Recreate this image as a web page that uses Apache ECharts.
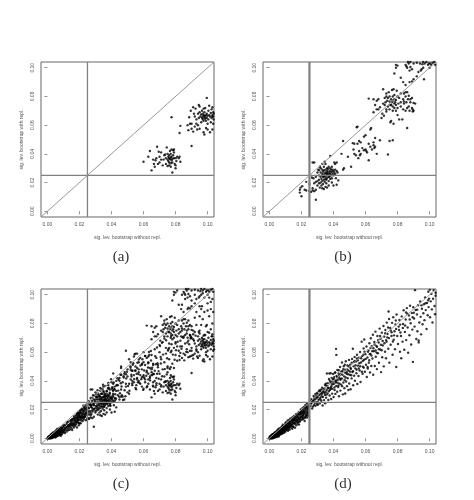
<!DOCTYPE html>
<html><head><meta charset="utf-8"><style>html,body{margin:0;padding:0;background:#fff}#c{width:474px;height:500px}</style>
<script src="https://cdn.jsdelivr.net/npm/echarts@6/dist/echarts.min.js"></script></head><body><div id="c"></div>
<script>
// All point values are in thousandths of a significance level.
const panelA = [[60,34.5],[63,38],[64,42],[65,28.5],[66,36],[66.5,33],[67,31],[67.5,35.5],[68,37],[68.5,45],[69,33],[69.5,41.5],[70,38],[70,34],[71,36],[71,41],[72,32],[72.5,36],[73,39],[73.5,39.5],[74,33],[74,37],[74.5,44.5],[75,31.5],[75,36],[75,40],[75.5,35],[75.5,38],[76,32],[76,34],[76,37],[76,39],[76.5,36.5],[76.5,42],[77,31],[77,33.5],[77,37.5],[77,40],[77.5,35.5],[77.5,38],[77.5,43],[78,27],[78,34],[78,36.5],[78.5,42.5],[78.5,39],[79,37],[79,43],[79.5,33],[80,30],[80,37],[80.5,35],[81,38],[82,37],[82.5,38],[83,34.5],[79,41],[80,32],
[77.5,65.5],[83,59.5],[82.5,54.5],[90,45.5],[87.5,60],[88,56.5],[88.5,65.5],[89,61],[89.5,70],[90,61],[90,57.5],[91,72.5],[91,55.5],[91.5,68],[92,59],[92,66],[92.5,71.5],[93,61],[93,64],[93.5,57],[94,68],[94,60],[94.5,74],[94.5,65],[95,73],[95,57.5],[95,69],[95.5,66],[96,62],[96,67.5],[96.5,65],[96.5,70],[97,64],[97,66],[97,68],[97.5,55],[97.5,63],[97.5,67],[97.5,71.5],[98,53.5],[98,65],[98,66.5],[98,69],[98.5,64.5],[98.5,66],[98.5,72],[99,58],[99,63],[99,67],[99.5,79],[99.5,65],[99.5,68],[100,57],[100,61],[100,66.5],[100.5,64],[100.5,70],[101,67],[101,73.5],[101.5,55],[101.5,66],[102,68.5],[102,62],[102.5,65],[102.5,71],[103,57],[103,67],[103,72.5],[103.5,61],[103.5,66],[103.5,69],[103.8,64],[103.8,68],[103,66]];
const panelB = [[19,13],[19,15],[19.5,16.5],[20,10.5],[20.5,17.5],[22,15],[23,20.5],[23,14.5],[25,14],[25,19],[26,13.5],[26.5,23.5],[27,16],[27,14.5],[27,34],[27.5,23],[28,34],[28,19.5],[28,14],[29,8],[29,20.5],[29,24],[29,15],[30,27],[30,21],[30,18],[30.5,29],[31,25],[31,22],[31,19.5],[31,28.5],[31.5,16.5],[31.5,31],[32,24],[32,20],[32,27],[32,30],[32.5,18],[32.5,22.5],[33,29],[33,26],[33,21],[33,16],[33,33],[33.5,24],[33.5,27.5],[33.5,19],[34,31],[34,15.5],[34,22],[34,28.5],[34.5,26],[34.5,20.5],[34.5,34.5],[35,27],[35,24],[35,29],[35,17],[35,33],[35.5,26.5],[35.5,22],[35.5,19.5],[36,30],[36,28],[36,25],[36,23],[36,16.5],[36.5,27],[36.5,29.5],[37,26],[37,31],[37,21],[37,18],[37.5,28],[37.5,24],[38,30],[38,27],[38,38.5],[38,26],[38,22.5],[38.5,29],[38.5,25],[39,27.5],[39,31],[39,20],[39,23],[39.5,26],[39.5,29],[40,28],[40,25],[40,18],[40.5,27],[40.5,34],[41,29],[41,26],[41,33],[41.5,23],[42,28],[42,34],[42,18.5],[42.5,27],[43,21.5],[46,29],[46.5,30],[33.5,25],[35,22.5],[37,24],[34,24],[36,26],
[45,40],[46,49],[49,38],[51,31],[52,47.5],[52.5,43],[53,47],[53,40],[54,39],[54.5,58.5],[55,59],[55,47],[55.5,37],[56,49],[56,42],[56.5,39],[57,48],[57,40],[58,44],[59,52],[59,42.5],[60,43],[60,53],[60.5,42],[61,41],[62,35.5],[62,47],[63,57],[63,45],[63.5,58],[64,43],[65,46],[65,48],[65.5,44],[66,51],[66,45],[67,40],[69,49.5],[74,39.5],[75,49],[77,49.5],
[62,78.5],[65,69],[65,78],[66,74],[67,77],[67,71],[68,78],[68,71],[69,72.5],[70,65],[70.5,68],[71,85],[71,75],[71.5,66.5],[72,79],[72,74],[72.5,76],[73,80],[73,71],[73,82],[73,69.5],[73.5,77],[74,73],[74,79],[74.5,83],[75,71],[75,76.5],[75,80],[75.5,62],[75.5,74],[76,78],[76,74],[76,63],[76.5,84.5],[76.5,76],[77,80],[77,77],[77,73],[77,70],[77.5,85],[77.5,61],[78,75],[78,78],[78,72],[78,81],[78.5,76],[79,77.5],[79,74],[79,70],[79.5,84],[80,72],[80,80],[80,67],[80.5,75],[81,79],[81,64],[82,82],[82,73],[82,76],[83,64],[83.5,78],[83.5,71],[84,75],[84,82],[84,76.5],[85,80],[85,70],[85,83],[85.5,76],[86,58],[86,83],[86,72],[86.5,78],[87,80.5],[87,73],[87.5,70],[88,76],[88,78],[89,79],[89,72],[89.5,71],[89.5,69.5],[90,75.5],[90,70],[91,75],
[78,96],[79,100],[79,102],[80,101.5],[82,93],[83.5,90],[85,88],[85,102],[85.5,101],[86,100],[86.5,104],[87,103],[87.5,98],[87.5,90],[88,104],[88,100.5],[89,90.5],[89,99],[90,92],[90,103],[92,94],[92,103.5],[93,97],[94,103],[94.5,98],[95,99],[95.5,102.5],[96,104],[96,100],[96.5,92],[97,103],[98,104],[99,102],[99.5,103],[100,100],[100.5,103],[101,102],[102,103.5],[103,104],[103.5,102]];
const panelCExtra = [[0,0],[.3,0],[.5,.2],[.8,0],[.8,.5],[1,.2],[1,1],[1.2,.4],[1.4,0],[1.5,.8],[1.6,1.5],[1.8,.3],[1.8,1.2],[2,.5],[2,0],[2,1.8],[2.2,1],[2.4,.2],[2.5,1.5],[2.5,2.4],[2.8,.7],[2.8,2],[3,1.2],[3,.2],[3,2.9],[3.2,1.8],[3.4,.6],[3.5,2.4],[3.6,1.2],[3.8,3.2],[3.8,2],[4,.8],[4,2.8],[4,1.5],[4.2,3.6],[4.4,2.2],[4.5,1],[4.6,3],[4.8,1.6],[4.8,4],[5,2.5],[5,.5],[5.2,3.4],[5.3,1.8],[5.5,4.4],[5.5,2.8],[5.6,1.2],[5.8,3.6],[6,2.2],[6,5],[6,3],[6.2,1.6],[6.4,4],[6.5,2.6],[6.6,5.4],[6.8,3.3],[7,1.9],[7,4.6],[7,6.3],[7.2,2.8],[7.4,3.8],[7.6,5.2],[7.8,2.4],[8,4.3],[8,3],[8.2,6],[8.4,1.7],[8.6,5],[8.8,3.6],[9,2.7],[9,7],[9.2,4.6],[9.5,6],[9.8,3.8],[10,5.3],[10,7.8],[10.4,4.5],[10.8,6.6],[11,3.6],[11,9],[11.3,5.5],[11.8,7.4],[12,4.6],[12,10],[12.4,6.2],[12.8,8.4],[13,5.5],[13.4,7],[13.8,9.6],[14,6],[14.3,8],[14.6,11.5],[15,7],[15,10],[15.5,5.8],[15.8,8.8],[16,12],[16.2,10.4],[16.5,7.5],[16.8,9.6],[17,13.5],[17.2,11],[17.5,8.5],[17.8,14.5],[18,12],[18,10],[18.4,16],[18.5,7.5],[18.8,13],[19,11],[19,18],[19.2,14.8],[19.6,9],[20,16.5],[20,12.5],[20.3,19],[20.5,15],[20.8,10.5],[21,17.5],[21,13.5],[21.5,20],[21.5,16],[22,12],[22,18.2],[22.4,14.5],[22.8,21.5],[23,17],[23,19.5],[23.5,15],[23.8,23],[24,18],[24,12.5],[24.4,20.5],[24.8,16],[25,24],[25,22],[25.4,18.5],[25.8,14],[26,21],[26,26],
[26.5,19],[27,23.5],[27,28],[27.5,17],[28,25],[28,21],[28.5,30],[29,27],[29,23],[30,19],[30,25],[30,32],[31,27],[31,23],[32,21],[32,29],[33,35],[33,24.5],[34,27],[34,31],[35,22],[35,36],[36,29],[36,25],[37,33],[37,26],[38,30],[38,37],[39,24],[39,34],[40,28],[40,39],[41,31],[41,38],[42,26],[42,36],[43,33],[43,40],[44,30],[44,37],[45,27],[45,42],[46,34],[46,50],[47,29],[47,39],[48,45],[48,27],[49,36],[49,61],[50,32],[50,48],[50,43],[51,55],[51,38],[52,41],[52,53],[53,37],[53,47],[54,44],[54,57],[55,50],[55,35],[56,41],[56,59],[57,46],[57,53],[58,38],[58,56],[59,48],[59,36],[60,60],[60,44],[61,51],[61,39],[62,56],[62,46],[63,41],[63,53],[64,49],[64,34],[65,58],[65,44],[66,39],[66,52],[67,47],[67,62],[68,42],[68,56],[69,51],[70,45],[70,60],[71,37],[71,55],[72,48],[72,67],[73,53],[73,43],[74,59],[74,63],[75,50],[75,46],[76,55],[76,66],[77,44],[77,60],[78,52],[78,69],[79,49],[79,63],[80,58],[80,66],[81,54],[81,71],[82,61],[83,68],[83,74],[84,56],[84,64],[85,59],[85,71],[86,66],[87,75],[87,62],[88,68],[88,82],[89,57],[89,72],[90,63],[90,78],[91,58],[91,69],[92,74],[92,84],[93,62],[93,79],[94,71],[94,56],[95,85],[95,75],[96,64],[96,90],[96,79],[97,54],[97,83],[97,69],[98,88],[98,72],[99,60],[99,78],[100,94],[100,74],[101,85],[101,65],[102,90],[102,76],[103,80],[103,97],[103,71],[103.5,88],[104,62],[84,93],[86,97],[88,91],[90,96],[93,88],[95,92],[98,98],[100,89],[101,98],[102,95],[81,103],[84,100],[92,100],[97,101],
[13.2,9.1],[14.4,8.7],[14.9,12.6],[15.4,9.3],[15.9,13.4],[16.4,8.9],[16.7,14.1],[17.1,9.7],[17.6,12.8],[18.2,14.3],[18.7,11.3],[18.9,17.2],[19.3,12.9],[19.7,16.1],[19.9,10.3],[20.4,14.1],[20.7,18.2],[21.2,12.3],[21.6,15.1],[21.9,19.3],[22.2,16.9],[22.6,13.2],[22.9,18.7],[23.3,15.4],[23.6,20.3],[24.1,16.8],[24.6,19.4],[24.9,13.1],[25.6,20.9],[25.9,16.7],[26.3,23.2],[26.8,17.9],[27.4,21.7],[27.8,26.2],[28.2,18.6],[28.7,23.6],[29.1,20.2],[29.6,25.8],[30.2,22.4],[30.6,28.7],[31.1,20.7],[31.7,25.2],[32.2,23.1],[32.7,27.4],[33.2,30.8],[33.7,22.3],[34.2,25.7],[34.8,28.6],[35.3,23.9],[35.7,31.2],[36.2,27.2],[36.8,24.2],[37.3,29.1],[37.8,34.7],[38.3,26.2],[38.9,31.7],[39.4,22.6],[39.9,27.6],[40.3,35.2],[40.8,29.8],[41.3,25.2],[41.7,34.2],[42.3,30.7],[42.8,27.8],[43.4,37.1],[44.2,33.2],[44.8,28.9],[45.3,31.4],[45.8,38.3],[46.3,36.1],[47.2,26.7],[47.6,43.2],[48.2,33.4],[48.7,29.3],[49.2,41.7],[49.7,46.3],[50.4,36.4],[51.2,33.1],[51.8,50.1],[52.4,44.2],[52.9,38.2],[53.6,52.3],[54.2,41.3],[54.8,47.2],[55.4,34.2],[56.2,52.6],[56.8,44.7],[57.4,38.7],[58.1,50.7],[58.6,41.2],[59.3,55.1],[59.8,33.7],[60.4,47.2],[61.1,57.3],[61.7,43.6],[62.3,36.2],[62.8,49.3],[63.4,60.1],[64.1,40.3],[64.7,54.2],[65.4,49.1],[65.9,36.7],[66.6,44.7],[67.3,57.2],[68.1,38.4],[68.7,52.3],[69.4,46.8],[70.3,64.2],[70.8,52.1],[71.6,43.2],[72.2,58.3],[73.3,48.2],[74.1,68.3],[74.7,55.8],[75.3,61.2],[76.4,48.3],[77.2,71.2],[78.3,58.3],[79.4,54.7],[80.3,61.4],[81.3,67.2],[82.4,57.3],[83.7,62.3],[84.3,70.3],[85.4,54.3],[86.7,60.2],[87.4,66.7],
[.6,.9],[1.1,.1],[.3,.4],[1.6,.6],[.9,1.4],[2.1,.2],[1.4,1.1],[2.9,1.4],[1.9,2.3],[3.6,.9],[2.4,2.8],[3.9,2.1],[4.4,1.1],[3.4,3.8],[5.1,1.9],[4.1,4.2],[3.1,3.4],[5.8,2.4],[4.9,4.9],[6.4,3.7],[5.4,5.6],[7.2,3.1],[6.1,6.4],[8.1,4.2],[7.1,6.9],[6.9,5.2],[8.9,5.7],[7.9,7.2],[9.6,5.1],[8.4,7.9],[9.3,7.1],[10.7,6.1],[9.9,8.9],[11.2,7.4],[10.4,9.1],[12.3,7.8],[13.3,8.6],[12.3,11.2],[14.1,9.8],[13.1,11.6],[15.1,10.7],[14.4,12.4],[16.1,10.2],[15.4,13.3],[17.2,12.1],[16.6,15.2],[18.1,11.3],[17.6,15.8],[19.1,13.4],[18.4,16.9],[20.1,14.6],[19.6,17.6],[21.1,15.2],[20.7,19.7],[22.1,14.1],[21.6,20.4],[23.1,16.2],[22.4,22.7],[24.1,17.6],[23.4,21.6],[24.7,21.1],
[38.2,35.3],[43.7,41.9],[35.6,30.4],[31.3,33.4],[41.4,38.9],[28.1,28.3],[45.6,44.2],[37.1,32.8],[34.7,37.3],[49.1,44.6],[27.2,22.1],[39.7,41.2],[43.1,36.8],[30.4,30.6],[36.1,36.4],[47.6,42.3],[32.6,29.3],[41.1,45.2],[44.4,40.8],[35.1,32.2],[38.4,34.6],[46.1,44.2],[29.3,29.6],[33.9,34.1],[48.3,46.1],[40.6,35.4],[53.3,51.2],[57.1,54.9],[60.9,57.4],[64.6,60.8],[68.4,63.2],[51.9,49.1],[55.7,44.9],[59.1,51.3],[62.9,52.3],[67.7,51.6],[70.7,56.6]];
const panelDLow = [[0,0],[.2,.3],[.4,0],[.4,.8],[.6,.4],[.8,0],[.8,1],[1,.4],[1,1.6],[1.2,.8],[1.2,0],[1.4,1.4],[1.5,.4],[1.6,2.2],[1.8,1],[1.8,0],[2,1.6],[2,.6],[2,2.8],[2.2,2],[2.4,1.2],[2.4,.2],[2.6,2.4],[2.6,1.6],[2.8,3.2],[2.8,.8],[3,2],[3,1.2],[3.2,2.8],[3.2,.4],[3.4,3.6],[3.4,1.6],[3.6,2.4],[3.8,1],[3.8,3],[4,4],[4,2],[4.2,2.8],[4.2,1.4],[4.4,3.5],[4.6,2.4],[4.6,4.6],[4.8,1.8],[4.8,3.2],[5,4],[5,2.6],[5.2,5.2],[5.4,3.4],[5.4,1.6],[5.6,4.4],[5.6,2.6],[5.8,3.8],[6,5.4],[6,3],[6.2,6.2],[6.2,4.4],[6.4,2.4],[6.6,5],[6.6,3.4],[6.8,4],[7,6.2],[7,2.8],[7.2,5],[7.4,3.6],[7.4,7],[7.6,4.6],[7.8,6],[8,3.2],[8,7.6],[8.2,5.2],[8.4,4],[8.6,6.6],[8.8,8.6],[9,5],[9,7.4],[9.2,3.8],[9.5,6],[9.8,8.8],[10,7],[10,4.6],[10.3,9.6],[10.5,5.8],[10.8,7.8],[11,9],[11,6.5],[11.4,10.4],[11.6,5.2],[11.8,8],[12,11],[12,7],[12.4,9.4],[12.6,6],[12.8,11.6],[13,8.4],[13.2,10.2],[13.5,7.4],[13.8,12],[14,9],[14,13.4],[14.3,6.6],[14.6,11],[15,8.2],[15,14],[15.3,12.4],[15.6,10],[15.8,15],[16,7.4],[16.2,13],[16.5,11],[16.8,9],[17,16],[17,14],[17.4,12],[17.6,10],[18,17],[18,15],[18.3,13],[18.5,9.6],[18.8,16.2],[19,18],[19,11.6],[19.4,14.4],[19.8,17],[20,12.8],[20,19],[20.4,15.6],[20.6,17.6],[21,14],[21,20],[21.4,16.6],[21.8,18.6],[22,12],[22,21.5],[22.4,15],[22.6,19.5],[23,17],[23,22.5],[23.4,14.5],[23.8,20],[24,18],[24,24],[24.4,15.5],[24.8,22],
[1.3,1.1],[1.7,1.3],[2.3,1.9],[2.7,2.1],[3.1,2.6],[3.3,1.9],[3.7,3.1],[4.3,3.9],[4.7,3.6],[5.1,4.5],[5.3,3.1],[5.7,5.3],[6.3,5.1],[6.7,5.8],[7.1,4.1],[7.3,6.5],[7.7,6.9],[8.1,5.7],[8.3,7.2],[8.7,7.7],[9.1,6.3],[9.4,8.3],[9.7,7.4],[10.2,8.7],[10.6,9.1],[10.9,7.2],[11.3,8.6],[11.7,10.3],[12.2,9.8],[12.7,10.1],[13.1,11.3],[13.6,9.7],[14.2,12.4],[14.7,12.9],[15.2,11.1],[15.7,13.6],[16.3,14.6],[16.9,12.7],[17.3,15.2],[17.8,13.6],[18.2,16.7],[18.7,14.3],[19.3,16.9],[19.7,15.1],[20.2,18.3],[20.8,16.2],[21.3,19.1],[21.7,17.4],[22.3,20.6],[22.7,18.2],[23.2,21.3],[23.7,19.1],[24.3,22.7],[24.6,20.4],
[.6,1.2],[1.1,.1],[.3,.7],[1.6,.6],[.9,1.4],[2.1,.2],[1.4,2],[.2,1.1],[2.9,1.4],[1.9,2.6],[3.6,.9],[.7,.1],[2.4,3],[3.9,2.1],[1.1,1.9],[4.4,1.1],[3.4,4.1],[2.2,.9],[5.1,1.9],[4.1,4.6],[3.1,3.4],[5.8,2.4],[4.9,5.4],[6.4,3.7],[5.4,6.1],[3.7,1.7],[7.2,3.1],[6.1,6.9],[4.6,.8],[8.1,4.2],[7.1,7.4],[6.9,5.2],[8.9,5.7],[7.9,8.4],[5.9,1.3],[9.6,5.1],[8.4,9.4],[9.3,7.9],[10.7,6.1],[9.9,10.3],[11.2,7.4],[10.4,11.2],[12.3,7.8],[11.4,12.4],[13.3,8.6],[12.3,12.7],[14.1,9.8],[13.1,13.8],[15.1,10.7],[14.4,14.6],[16.1,10.2],[15.4,15.6],[17.2,12.1],[16.6,16.8],[18.1,11.3],[17.6,17.2],[19.1,13.4],[18.4,18.4],[20.1,14.6],[19.6,20.1],[21.1,15.2],[20.7,21.1],[22.1,14.1],[21.6,21.8],[23.1,16.2],[22.4,23.1],[24.1,17.6],[23.4,24.2],[24.7,21.1],[18.9,12.2],[14.8,7.9],[11.9,6.1],[20.9,13.3],[16.4,12.2],[13.7,11.4],[22.8,15.7],[17.7,11.3],[24.2,16.1],[9.1,8.1],[7.6,3.4],[10.1,6.2],[12.9,9.2],[15.6,12.6],[19.4,18.2],[21.4,18.1],[23.6,21.4]];
const panelDUpper = [[25.3,26.1],[25.7,22.4],[26.2,27.3],[26.3,24.6],[26.7,20.7],[27.3,25.8],[27.6,29.4],[27.9,23.2],[28.3,26.9],[28.7,30.8],[28.8,22.6],[29.2,27.7],[29.4,25.1],[29.7,31.6],[30.2,28.6],[30.3,23.4],[30.7,26.8],[30.9,32.7],[31.2,30.1],[31.4,24.3],[31.8,28.2],[32.2,33.9],[32.4,26.1],[32.7,30.9],[32.9,35.2],[33.2,22.8],[33.4,28.7],[33.8,32.3],[34.1,26.6],[34.3,34.7],[34.6,30.2],[34.8,24.4],
[35.2,36.7],[35.4,28.3],[35.7,33.6],[35.9,45.1],[36.3,31.2],[36.4,38.4],[36.8,26.7],[36.9,35.1],[37.2,41.3],[37.4,45.2],[37.6,29.8],[37.8,33.7],[38.1,38.6],[38.3,45.3],[38.6,27.4],[38.7,36.2],[38.9,42.1],[39.2,31.1],[39.3,34.4],[39.6,39.3],[39.8,44.8],[40.1,28.7],[40.2,37.8],[40.4,42.6],[40.7,33.6],[40.9,45.7],[41.2,30.9],[41.3,39.7],[41.7,36.4],[41.9,43.4],[41.6,62.3],[41.8,58.1],[42.3,32.4],[42.4,47.6],[42.7,40.8],[42.9,35.7],[43.2,45.1],[43.4,29.3],[43.6,42.2],[43.8,38.1],[44.1,49.6],[44.3,33.2],[44.6,44.7],[44.8,37.4],
[45.2,41.6],[45.3,52.8],[45.7,46.7],[45.9,30.6],[46.2,38.8],[46.4,50.2],[46.7,43.1],[46.8,34.9],[47.2,47.8],[47.3,31.2],[47.7,53.7],[47.9,39.6],[48.2,44.9],[48.4,36.3],[48.7,50.7],[48.9,41.8],[49.3,33.6],[49.4,47.1],[49.7,54.6],[49.8,38.2],[50.2,44.3],[50.4,51.2],[50.7,34.1],[50.9,48.3],[51.3,41.7],[51.6,55.3],[51.8,46.2],[52.1,62.4],[52.3,36.9],[52.6,50.1],[52.9,43.6],[53.2,56.7],[53.4,40.1],[53.7,48.7],[54.1,53.4],[54.3,45.3],[54.7,58.2],[54.9,37.8],
[55.3,50.6],[55.6,43.4],[55.9,56.2],[56.3,47.2],[56.6,60.1],[56.9,39.2],[57.2,52.8],[57.6,67.3],[57.9,57.4],[58.2,44.9],[58.4,49.8],[58.8,62.6],[59.1,54.7],[59.2,68.8],[59.6,46.3],[59.9,58.6],[60.3,51.2],[60.6,63.9],[60.8,42.7],[61.2,56.3],[61.4,48.6],[61.8,61.4],[62.1,52.7],[62.4,66.2],[62.8,45.8],[63.1,58.8],[63.3,69.7],[63.6,50.4],[63.9,64.2],[64.3,55.6],[64.6,72.1],[64.8,44.2],
[65.2,60.7],[65.5,67.1],[65.8,50.3],[66.2,74.3],[66.4,56.8],[66.8,64.3],[67.1,48.2],[67.4,71.2],[67.7,59.2],[68.2,66.7],[68.4,52.6],[68.8,76.4],[69.2,61.8],[69.4,69.3],[69.7,46.1],[70.2,73.6],[70.4,56.4],[70.8,64.7],[71.2,78.2],[71.4,50.1],[71.7,70.8],[72.2,60.3],[72.4,75.4],[72.8,55.7],[73.1,67.2],[73.3,80.6],[73.7,72.6],[74.2,62.4],[74.4,88.3],[74.7,83.1],[74.9,52.7],
[75.4,76.8],[75.7,65.2],[76.2,71.3],[76.6,80.4],[76.9,58.2],[77.3,84.3],[77.6,68.7],[78.1,74.6],[78.4,62.1],[78.7,79.3],[79.2,49.7],[79.4,86.2],[79.8,71.2],[80.3,65.7],[80.7,77.8],[81.2,82.4],[81.5,60.3],[81.8,73.7],[82.3,55.8],[82.6,84.9],[83.1,67.3],[83.4,79.6],[83.8,89.2],[84.2,61.7],[84.6,74.1],[85.1,82.8],[85.4,68.4],[85.8,90.7],[86.3,77.2],[86.6,59.6],[87.1,85.6],[87.4,71.8],[87.8,92.3],[88.2,80.1],[88.5,65.3],[88.9,87.2],[89.2,75.7],[89.6,53.2],[89.8,91.3],
[90.3,83.4],[90.6,77.8],[90.9,103.2],[91.3,89.4],[91.7,69.2],[92.1,86.3],[92.4,74.6],[92.8,92.7],[93.2,66.8],[93.2,68.1],[93.6,80.7],[94.1,95.3],[94.4,84.6],[94.7,72.4],[95.2,90.2],[95.6,79.4],[96.1,87.1],[96.4,93.4],[96.8,82.3],[97.2,98.1],[97.6,89.3],[98.1,76.1],[98.4,94.2],[98.8,85.7],[99.2,102.1],[99.4,91.4],[99.7,97.3],[100.1,103.4],[100.3,84.3],[100.7,95.4],[101.1,100.6],[101.4,89.8],[101.8,80.7],[102.2,97.2],[102.6,103.1],[103.1,92.2],[103.4,86.4],[103.7,99.3],[103.8,101.4],
[47.3,45.7],[33.1,31.9],[61.6,60.2],[29.8,23.7],[54.4,47.8],[38.2,35.3],[72.9,68.4],[43.7,43.9],[26.4,25.6],[66.3,61.1],[35.6,30.4],[82.1,71.2],[50.6,49.1],[31.3,33.4],[58.3,53.9],[41.4,38.9],[76.3,73.9],[28.1,28.3],[69.6,65.2],[45.6,44.2],[37.1,32.8],[63.7,57.6],[52.8,53.1],[34.7,37.3],[87.6,82.7],[49.1,44.6],[27.2,22.1],[74.6,69.8],[56.1,52.3],[39.7,41.2],[67.9,68.4],[43.1,36.8],[30.4,30.6],[80.9,75.4],[59.4,60.3],[36.1,36.4],[47.6,42.3],[71.8,66.2],[53.8,50.9],[32.6,29.3],[64.9,62.7],[41.1,45.9],[84.7,78.6],[25.9,24.1],[57.3,55.8],[44.4,40.8],[77.8,71.7],[35.1,32.2],[51.4,52.7],[69.1,71.3],[38.4,34.6],[90.1,87.4],[62.3,54.4],[46.1,48.2],[29.3,29.6],[73.6,70.3],[55.2,54.4],[33.9,34.1],[81.6,79.2],[48.3,46.1],[40.6,35.4],[67.2,63.7],[58.9,49.2],[31.7,27.2],[94.9,92.6],[43.3,47.4],[75.7,75.1],[52.2,46.7],[37.7,40.1],[60.1,55.3],[28.4,24.7],[86.1,86.8],[49.6,50.2],[34.4,31.6],[65.6,65.3],[42.2,42.7],[78.9,82.1],[56.7,50.2],[30.1,25.3],[70.7,67.8],[46.9,40.6],[39.1,37.6],[63.1,62.9],[53.3,53.9],[83.3,76.9],[27.7,27.1],[44.9,46.6],[61.3,49.7],[36.6,34.8],[97.4,94.1],[50.3,46.4],[72.3,73.2],[32.1,32.4],[57.7,46.3],[41.6,40.3],[89.4,84.3],[66.9,59.7],[47.1,51.3],[35.3,38.1],[54.6,55.6],[79.1,76.2],[29.6,28.9],[62.7,58.6],[44.1,41.4],[74.1,77.2],[38.7,39.4],[51.1,43.9],[68.3,62.1],[92.3,89.6],[33.6,33.1],[58.6,58.2],[45.4,36.3],[77.1,67.4],[26.9,26.4],[55.8,48.6],[40.3,41.2],[85.3,87.7],[64.2,60.7],[48.6,47.9],[31.9,31.1],[70.1,61.3],[42.6,38.7],[99.1,96.2]];
const panelC = [...panelA, ...panelB, ...panelCExtra];
const panelD = [...panelDLow, ...panelDUpper];
const captions = ['(a)', '(b)', '(c)', '(d)'];
const tickValues = [0, 0.02, 0.04, 0.06, 0.08, 0.10];
const cutoff = 0.025;
const axisMin = -0.004, axisMax = 0.104;
const xName = 'sig. lev. bootstrap without repl.';
const yName = 'sig. lev. bootstrap with repl.';

const panels = [panelA, panelB, panelC, panelD];
const boxes = [
  {left: 41, top: 62, vw: 1.3},
  {left: 263, top: 62, vw: 2.2},
  {left: 41, top: 289, vw: 1.3},
  {left: 263, top: 289, vw: 2.2}
];
const W = 173, H = 155;
const axisCommon = {
  type: 'value', min: axisMin, max: axisMax, splitLine: {show: false}, axisLine: {show: false},
  axisTick: {length: 3, lineStyle: {color: '#777', width: 0.8}, customValues: tickValues},
  axisLabel: {fontSize: 5, color: '#555', fontFamily: 'Liberation Sans', margin: 5,
    customValues: tickValues, formatter: v => v.toFixed(2)},
  nameLocation: 'middle', nameTextStyle: {fontSize: 5, color: '#555', fontFamily: 'Liberation Sans'}
};
const option = {animation: false, backgroundColor: '#fff', grid: [], xAxis: [], yAxis: [], series: [], title: []};
boxes.forEach((b, i) => {
  option.grid.push({left: b.left, top: b.top, width: W, height: H, show: true, borderColor: '#666', borderWidth: 1, backgroundColor: 'transparent'});
  option.xAxis.push({...axisCommon, gridIndex: i, name: xName, nameGap: 18});
  option.yAxis.push({...axisCommon, gridIndex: i, name: yName, nameGap: 17,
    axisLabel: {...axisCommon.axisLabel, rotate: 90, margin: 6}});
  const lineOf = (data, color, width) => ({type: 'line', xAxisIndex: i, yAxisIndex: i, data, symbol: 'none', silent: true,
    lineStyle: {color, width}});
  option.series.push(lineOf([[cutoff, axisMin], [cutoff, axisMax]], '#808080', b.vw));
  option.series.push(lineOf([[axisMin, cutoff], [axisMax, cutoff]], '#808080', 1.3));
  option.series.push(lineOf([[axisMin, axisMin], [axisMax, axisMax]], '#999', 1));
  option.series.push({type: 'scatter', xAxisIndex: i, yAxisIndex: i, symbol: 'circle', symbolSize: 2.4, silent: true,
    itemStyle: {color: '#000'}, data: panels[i].map(p => [p[0] / 1000, p[1] / 1000])});
  option.title.push({text: captions[i], left: b.left + 75, top: b.top + 183,
    textAlign: 'center', textStyle: {fontFamily: 'Liberation Serif', fontSize: 15, fontWeight: 'normal', color: '#333'}});
});
echarts.init(document.getElementById('c'), null, {renderer: 'canvas'}).setOption(option);
</script></body></html>
